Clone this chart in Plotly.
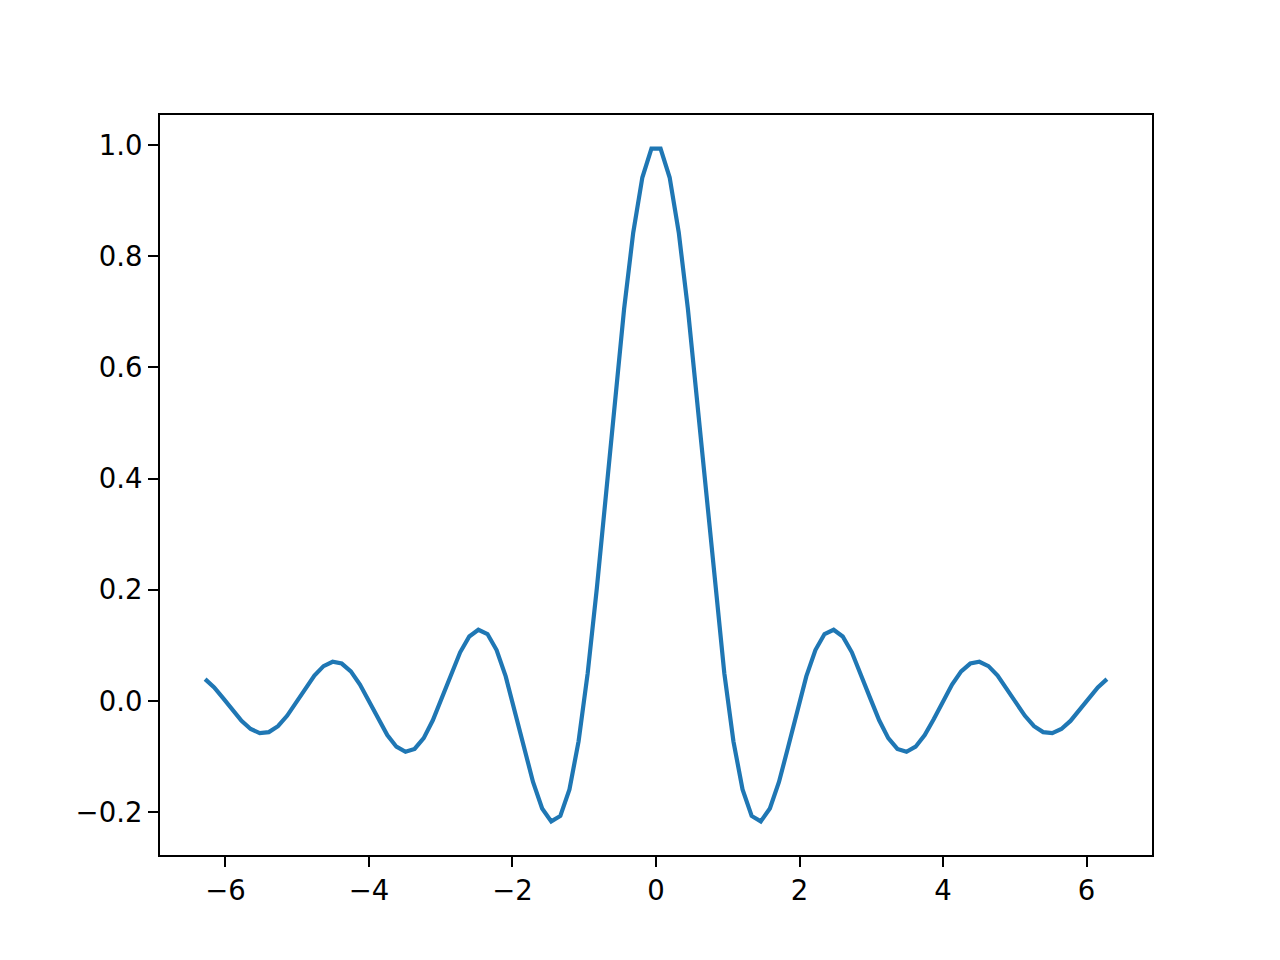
import plotly.graph_objects as go

x_values = [
    -6.2832, -6.1563, -6.0293, -5.9024, -5.7755, -5.6485, -5.5216, -5.3947, -5.2677, -5.1408,
    -5.0139, -4.8869, -4.7600, -4.6331, -4.5061, -4.3792, -4.2523, -4.1253, -3.9984, -3.8715,
    -3.7445, -3.6176, -3.4907, -3.3637, -3.2368, -3.1099, -2.9829, -2.8560, -2.7291, -2.6021,
    -2.4752, -2.3483, -2.2213, -2.0944, -1.9675, -1.8405, -1.7136, -1.5867, -1.4597, -1.3328,
    -1.2059, -1.0789, -0.9520, -0.8251, -0.6981, -0.5712, -0.4443, -0.3173, -0.1904, -0.0635,
    0.0635, 0.1904, 0.3173, 0.4443, 0.5712, 0.6981, 0.8251, 0.9520, 1.0789, 1.2059,
    1.3328, 1.4597, 1.5867, 1.7136, 1.8405, 1.9675, 2.0944, 2.2213, 2.3483, 2.4752,
    2.6021, 2.7291, 2.8560, 2.9829, 3.1099, 3.2368, 3.3637, 3.4907, 3.6176, 3.7445,
    3.8715, 3.9984, 4.1253, 4.2523, 4.3792, 4.5061, 4.6331, 4.7600, 4.8869, 5.0139,
    5.1408, 5.2677, 5.3947, 5.5216, 5.6485, 5.7755, 5.9024, 6.0293, 6.1563, 6.2832,
]

y_values = [
    0.0394, 0.0244, 0.0049, -0.0163, -0.0357, -0.0503, -0.0575, -0.0558, -0.0451, -0.0265,
    -0.0028, 0.0227, 0.0458, 0.0628, 0.0706, 0.0675, 0.0533, 0.0296, -0.0004, -0.0323,
    -0.0611, -0.0820, -0.0912, -0.0861, -0.0666, -0.0346, 0.0057, 0.0487, 0.0877, 0.1161,
    0.1282, 0.1205, 0.0918, 0.0444, -0.0165, -0.0831, -0.1455, -0.1932, -0.2163, -0.2066,
    -0.1590, -0.0724, 0.0502, 0.2020, 0.3703, 0.5433, 0.7056, 0.8424, 0.9415, 0.9934,
    0.9934, 0.9415, 0.8424, 0.7056, 0.5433, 0.3703, 0.2020, 0.0502, -0.0724, -0.1590,
    -0.2066, -0.2163, -0.1932, -0.1455, -0.0831, -0.0165, 0.0444, 0.0918, 0.1205, 0.1282,
    0.1161, 0.0877, 0.0487, 0.0057, -0.0346, -0.0666, -0.0861, -0.0912, -0.0820, -0.0611,
    -0.0323, -0.0004, 0.0296, 0.0533, 0.0675, 0.0706, 0.0628, 0.0458, 0.0227, -0.0028,
    -0.0265, -0.0451, -0.0558, -0.0575, -0.0503, -0.0357, -0.0163, 0.0049, 0.0244, 0.0394,
]

x_ticks = [-6, -4, -2, 0, 2, 4, 6]
y_ticks = [-0.2, 0.0, 0.2, 0.4, 0.6, 0.8, 1.0]

fig = go.Figure(
    go.Scatter(
        x=x_values,
        y=y_values,
        mode="lines",
        line=dict(color="#1f77b4", width=4.2),
        showlegend=False,
    )
)

axis_common = dict(
    showgrid=False,
    zeroline=False,
    showline=True,
    mirror=True,
    linecolor="black",
    linewidth=2.2,
    ticks="outside",
    ticklen=10,
    tickwidth=2.2,
    tickcolor="black",
    tickfont=dict(family="DejaVu Sans", size=27.5, color="black"),
)

fig.update_xaxes(
    range=[-6.9115, 6.9115],
    tickvals=x_ticks,
    tickformat="d",
    **axis_common,
)
fig.update_yaxes(
    range=[-0.2768, 1.0539],
    tickvals=y_ticks,
    tickformat=".1f",
    **axis_common,
)

fig.update_layout(
    width=1280,
    height=960,
    margin=dict(l=152, r=136, t=107, b=113),
    paper_bgcolor="white",
    plot_bgcolor="white",
    font=dict(family="DejaVu Sans", color="black"),
)

fig.write_html("out.html")
